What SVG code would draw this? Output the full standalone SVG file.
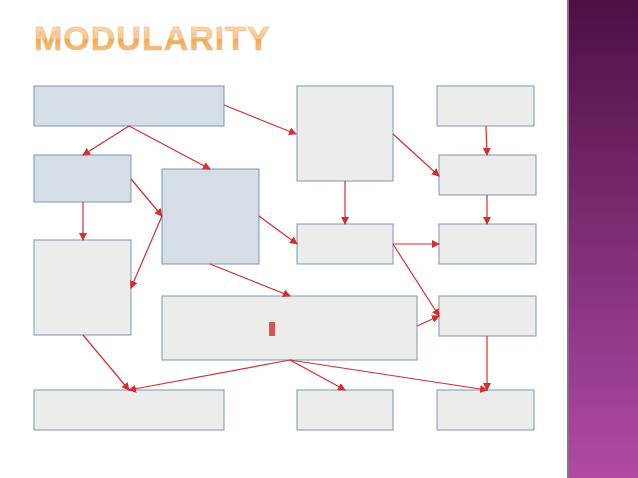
<svg xmlns="http://www.w3.org/2000/svg" width="638" height="478" viewBox="0 0 638 478">
<defs>
<linearGradient id="pg" x1="0" y1="0" x2="0" y2="1"><stop offset="0" stop-color="#4e0f44"/><stop offset="0.5" stop-color="#7d2d75"/><stop offset="1" stop-color="#b04aa6"/></linearGradient>
<linearGradient id="tg" x1="0" y1="0" x2="0" y2="1"><stop offset="0" stop-color="#fbe3c4"/><stop offset="0.5" stop-color="#f6c58c"/><stop offset="0.55" stop-color="#efa84f"/><stop offset="1" stop-color="#f7cf9c"/></linearGradient>
<marker id="ah" markerWidth="8" markerHeight="8" refX="7" refY="4" orient="auto" markerUnits="userSpaceOnUse"><path d="M0,0 L8,4 L0,8 Z" fill="#d03030"/></marker>
<style>
.b{fill:#d5dde6;stroke:#7a95b8;stroke-width:1}
.g{fill:#ececea;stroke:#7a95b8;stroke-width:1}
.c line{stroke:#d03030;stroke-width:1.2;marker-end:url(#ah)}
</style>
</defs>
<rect width="638" height="478" fill="#fff"/>
<rect x="569" y="0" width="69" height="478" fill="url(#pg)"/>
<rect x="567" y="0" width="2" height="478" fill="#3a0b33" opacity="0.6"/>
<text x="34" y="50" font-family="Liberation Sans, sans-serif" font-weight="bold" font-size="34" letter-spacing="1" fill="url(#tg)" stroke="#efb574" stroke-width="0.5">MODULARITY</text>
<g id="nA"><rect class="b" x="34" y="86" width="190" height="40"/></g>
<g id="nB"><rect class="g" x="297" y="86" width="96" height="95"/></g>
<g id="nC"><rect class="g" x="437" y="86" width="97" height="40"/></g>
<g id="nD"><rect class="b" x="34" y="155" width="97" height="47"/></g>
<g id="nE"><rect class="b" x="162" y="169" width="97" height="95"/></g>
<g id="nF"><rect class="g" x="439" y="155" width="97" height="40"/></g>
<g id="nG"><rect class="g" x="297" y="224" width="96" height="40"/></g>
<g id="nH"><rect class="g" x="439" y="224" width="97" height="40"/></g>
<g id="nI"><rect class="g" x="34" y="240" width="97" height="95"/></g>
<g id="nJ"><rect class="g" x="162" y="296" width="255" height="64"/><rect x="269" y="322" width="6" height="14" fill="#d9534f"/></g>
<g id="nK"><rect class="g" x="439" y="296" width="97" height="40"/></g>
<g id="nL"><rect class="g" x="34" y="390" width="190" height="40"/></g>
<g id="nM"><rect class="g" x="297" y="390" width="96" height="40"/></g>
<g id="nN"><rect class="g" x="437" y="390" width="97" height="40"/></g>
<g class="c" id="connectors">
<line x1="224" y1="105" x2="296" y2="134"/>
<line x1="129" y1="126" x2="83" y2="155"/>
<line x1="129" y1="126" x2="210" y2="169"/>
<line x1="393" y1="134" x2="439" y2="176"/>
<line x1="345" y1="181" x2="345" y2="224"/>
<line x1="486" y1="126" x2="487" y2="155"/>
<line x1="487" y1="195" x2="487" y2="224"/>
<line x1="83" y1="202" x2="83" y2="240"/>
<line x1="131" y1="179" x2="162" y2="216"/>
<line x1="162" y1="216" x2="131" y2="288"/>
<line x1="259" y1="216" x2="297" y2="244"/>
<line x1="210" y1="264" x2="290" y2="296"/>
<line x1="393" y1="244" x2="439" y2="244"/>
<line x1="393" y1="244" x2="439" y2="316"/>
<line x1="417" y1="326" x2="439" y2="316"/>
<line x1="487" y1="336" x2="487" y2="390"/>
<line x1="83" y1="335" x2="129" y2="390"/>
<line x1="290" y1="360" x2="129" y2="390"/>
<line x1="290" y1="360" x2="345" y2="390"/>
<line x1="290" y1="360" x2="487" y2="390"/>
</g>
</svg>
